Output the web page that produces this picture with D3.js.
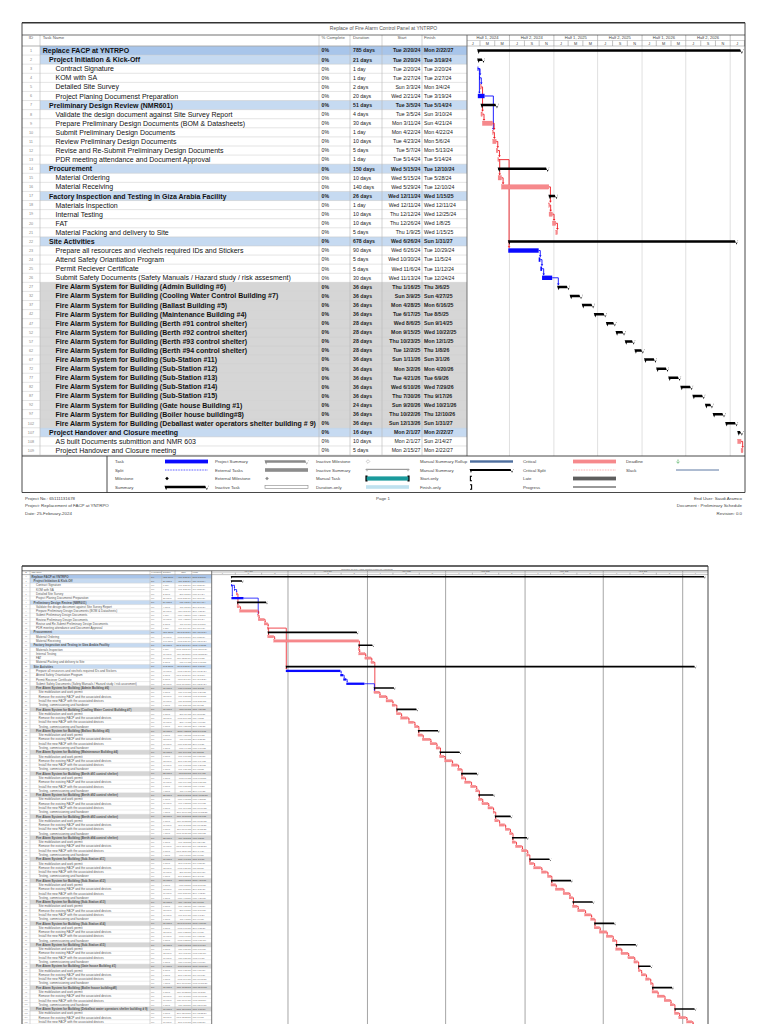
<!DOCTYPE html>
<html>
<head>
<meta charset="utf-8">
<script src="https://cdn.jsdelivr.net/npm/d3@7"></script>
<style>
html, body { margin: 0; padding: 0; background: #fff; }
svg { display: block; font-family: "Liberation Sans", Arial, sans-serif; }
</style>
</head>
<body>
<svg width="768" height="1024"></svg>
<script>
var svg = d3.select("svg");

// ---------------- data ----------------
var rowIds = [1, 2, 3, 4, 5, 6, 7, 8, 9, 10, 11, 12, 13, 14, 15, 16, 17, 18, 19, 20, 21, 22, 23, 24, 25, 26,
    27, 32, 37, 42, 47, 52, 57, 62, 67, 72, 77, 82, 87, 92, 97, 102, 107, 108, 109];
var rowNames = [
    "Replace FACP at YNTRPO",
    "Project Initiation & Kick-Off",
    "Contract Signature",
    "KOM with SA",
    "Detailed Site Survey",
    "Project Planing Documenst Preparation",
    "Preliminary Design Review (NMR601)",
    "Validate the design document against Site Survey Report",
    "Prepare Preliminary Design Documents (BOM & Datasheets)",
    "Submit Preliminary Design Documents",
    "Review Preliminary Design Documents",
    "Revise and Re-Submit Preliminary Design Documents",
    "PDR meeting attendance and Document Approval",
    "Procurement",
    "Material Ordering",
    "Material Receiving",
    "Factory Inspection and Testing in Giza Arabia Facility",
    "Materials Inspection",
    "Internal Testing",
    "FAT",
    "Material Packing and delivery to Site",
    "Site Activities",
    "Prepare all resources and viechels required IDs and Stickers",
    "Attend Safety Oriantiation Program",
    "Permit Reciever Certificate",
    "Submit Safety Documents (Safety Manuals / Hazard study / risk assesment)",
    "Fire Alarm System for Building (Admin Building #6)",
    "Fire Alarm System for Building (Cooling Water Control Building #7)",
    "Fire Alarm System for Building (Ballast Building #5)",
    "Fire Alarm System for Building (Maintenance Building #4)",
    "Fire Alarm System for Building (Berth #91 control shelter)",
    "Fire Alarm System for Building (Berth #92 control shelter)",
    "Fire Alarm System for Building (Berth #93 control shelter)",
    "Fire Alarm System for Building (Berth #94 control shelter)",
    "Fire Alarm System for Building (Sub-Station #11)",
    "Fire Alarm System for Building (Sub-Station #12)",
    "Fire Alarm System for Building (Sub-Station #13)",
    "Fire Alarm System for Building (Sub-Station #14)",
    "Fire Alarm System for Building (Sub-Station #15)",
    "Fire Alarm System for Building (Gate house Building #1)",
    "Fire Alarm System for Building (Boiler house building#8)",
    "Fire Alarm System for Building (Deballast water operators shelter building # 9)",
    "Project Handover and Closure meeting",
    "AS built Documents submittion and NMR 603",
    "Project Handover and Closure meeting"
];
var rowLevels = [0, 1, 2, 2, 2, 2, 1, 2, 2, 2, 2, 2, 2, 1, 2, 2, 1, 2, 2, 2, 2, 1, 2, 2, 2, 2,
    2, 2, 2, 2, 2, 2, 2, 2, 2, 2, 2, 2, 2, 2, 2, 2, 1, 2, 2];
// S = summary, T = task, C = critical task, B = building group
var rowKinds = ["S", "S", "T", "T", "C", "T", "S", "C", "C", "C", "C", "C", "C", "S", "C", "C", "S", "C", "C", "C", "C", "S", "T", "T", "T", "T",
    "B", "B", "B", "B", "B", "B", "B", "B", "B", "B", "B", "B", "B", "B", "B", "B", "S", "C", "C"];
var rowDurations = ["785 days", "21 days", "1 day", "1 day", "2 days", "20 days", "51 days", "4 days", "30 days", "1 day",
    "10 days", "5 days", "1 day", "150 days", "10 days", "140 days", "26 days", "1 day", "10 days", "10 days", "5 days",
    "678 days", "90 days", "5 days", "5 days", "30 days",
    "36 days", "36 days", "36 days", "36 days", "28 days", "28 days", "28 days", "28 days",
    "36 days", "36 days", "36 days", "36 days", "36 days", "24 days", "36 days", "36 days",
    "16 days", "10 days", "5 days"];
var rowStarts = ["Tue 2/20/24", "Tue 2/20/24", "Tue 2/20/24", "Tue 2/27/24", "Sun 3/3/24", "Wed 2/21/24", "Tue 3/5/24",
    "Tue 3/5/24", "Mon 3/11/24", "Mon 4/22/24", "Tue 4/23/24", "Tue 5/7/24", "Tue 5/14/24", "Wed 5/15/24", "Wed 5/15/24",
    "Wed 5/29/24", "Wed 12/11/24", "Wed 12/11/24", "Thu 12/12/24", "Thu 12/26/24", "Thu 1/9/25", "Wed 6/26/24",
    "Wed 6/26/24", "Wed 10/30/24", "Wed 11/6/24", "Wed 11/13/24",
    "Thu 1/16/25", "Sun 3/9/25", "Mon 4/28/25", "Tue 6/17/25", "Wed 8/6/25", "Mon 9/15/25", "Thu 10/23/25", "Tue 12/2/25",
    "Sun 1/11/26", "Mon 3/2/26", "Tue 4/21/26", "Wed 6/10/26", "Thu 7/30/26", "Sun 9/20/26", "Thu 10/22/26", "Sun 12/13/26",
    "Mon 2/1/27", "Mon 2/1/27", "Mon 2/15/27"];
var rowFinishes = ["Mon 2/22/27", "Tue 3/19/24", "Tue 2/20/24", "Tue 2/27/24", "Mon 3/4/24", "Tue 3/19/24", "Tue 5/14/24",
    "Sun 3/10/24", "Sun 4/21/24", "Mon 4/22/24", "Mon 5/6/24", "Mon 5/13/24", "Tue 5/14/24", "Tue 12/10/24", "Tue 5/28/24",
    "Tue 12/10/24", "Wed 1/15/25", "Wed 12/11/24", "Wed 12/25/24", "Wed 1/8/25", "Wed 1/15/25", "Sun 1/31/27",
    "Tue 10/29/24", "Tue 11/5/24", "Tue 11/12/24", "Tue 12/24/24",
    "Thu 3/6/25", "Sun 4/27/25", "Mon 6/16/25", "Tue 8/5/25", "Sun 9/14/25", "Wed 10/22/25", "Mon 12/1/25", "Thu 1/8/26",
    "Sun 3/1/26", "Mon 4/20/26", "Tue 6/9/26", "Wed 7/29/26", "Thu 9/17/26", "Wed 10/21/26", "Thu 12/10/26", "Sun 1/31/27",
    "Mon 2/22/27", "Sun 2/14/27", "Mon 2/22/27"];

// sub tasks of every building (shown expanded on the second page)
var subNames = [
    "Site mobilization and work permit",
    "Remove the existing FACP and the associated devices",
    "Install the new FACP with the associated devices",
    "Testing, commissioning and handover"
];
var subDays36 = [8, 12, 10, 6];
var subDays28 = [6, 10, 8, 4];
var subDays24 = [5, 8, 7, 4];

// dependencies (predecessor -> successor)
var linkFrom = [3, 3, 4, 5, 6, 8, 9, 10, 11, 12, 13, 13, 15, 16, 18, 19, 20, 21, 23, 24, 25, 26, 106, 108];
var linkTo   = [4, 6, 5, 8, 10, 9, 10, 11, 12, 13, 15, 23, 16, 18, 19, 20, 21, 28, 24, 25, 26, 28, 108, 109];

var legendLabels = [
    ["Task", "Split", "Milestone", "Summary"],
    ["Project Summary", "External Tasks", "External Milestone", "Inactive Task"],
    ["Inactive Milestone", "Inactive Summary", "Manual Task", "Duration-only"],
    ["Manual Summary Rollup", "Manual Summary", "Start-only", "Finish-only"],
    ["Critical", "Critical Split", "Late", "Progress"],
    ["Deadline", "Slack"]
];
var footerLeft = ["Project No.: 65111131678", "Project:  Replacement of FACP at YNTRPO", "Date: 25-February-2024"];
var footerRight = ["End User: Saudi Aramco", "Document : Preliminary Schedule", "Revision: 0.0"];
var chartTitle = "Replace of Fire Alarm Control Panel at YNTRPO";
var headerLabels = ["ID", "Task Name", "% Complete", "Duration", "Start", "Finish"];

// ---------------- helpers ----------------
var parseD = d3.timeParse("%m/%d/%y");
var fmtD = d3.timeFormat("%a %-m/%-d/%y");
function toDate(s) { return parseD(s.split(" ")[1]); }
function isWork(d) { var w = d.getDay(); return w !== 5 && w !== 6; }
function addWork(d, n) {
    var c = 1, t = d;
    while (c < n) { t = d3.timeDay.offset(t, 1); if (isWork(t)) c++; }
    return t;
}
function nextWork(d) {
    var t = d3.timeDay.offset(d, 1);
    while (!isWork(t)) t = d3.timeDay.offset(t, 1);
    return t;
}

var rows1 = rowIds.map(function(id, i) {
    return { id: id, name: rowNames[i], level: rowLevels[i], kind: rowKinds[i], dur: rowDurations[i],
        s: rowStarts[i], f: rowFinishes[i], start: toDate(rowStarts[i]), finish: toDate(rowFinishes[i]) };
});
var rows2 = [];
var parentOf = {};
rows1.forEach(function(r) {
    rows2.push(r);
    if (r.kind === "B") {
        var days = r.dur === "36 days" ? subDays36 : (r.dur === "28 days" ? subDays28 : subDays24);
        var cur = r.start;
        days.forEach(function(n, j) {
            var f = addWork(cur, n);
            rows2.push({ id: r.id + j + 1, name: subNames[j], level: 3, kind: "C", dur: n + " days",
                s: fmtD(cur), f: fmtD(f), start: cur, finish: f });
            parentOf[r.id + j + 1] = r.id;
            cur = nextWork(f);
        });
    }
});

var links = linkFrom.map(function(a, i) { return { from: a, to: linkTo[i] }; });
rows1.filter(function(r) { return r.kind === "B"; }).forEach(function(r, k, arr) {
    for (var j = 1; j < 4; j++) links.push({ from: r.id + j, to: r.id + j + 1 });
    if (k < arr.length - 1) links.push({ from: r.id + 4, to: arr[k + 1].id + 1 });
});

// ---------------- page layouts ----------------
var page1 = {
    name: "p1", top: 22.7, titleY: 30.3, hdrTop: 35, tier: 40.5, rowTop: 46, rowH: 9.09,
    left: 22, right: 745, bottom: 456, titleX: 383.5,
    cols: [40, 319, 350, 382, 422, 467],
    nameX: [42.7, 49, 55.5, 61], idX: 31, pctX: 321.5, durX: 353, startX: 420.5, finX: 424,
    x0: 465.5, x1: 730.2,
    fsName: 7, fsNum: 5.2, fsId: 3.8, fsHdr: 4.3, fsTime: 4.1, fsTitle: 5,
    txt: "#111", num: "#222",
    tH: 4.4, sH: 2.5, cap: 1.6, lw: 0.9, arrow: 1.3, minOff: 1.6,
    grid: "#dcdcdc", lineRow: "#c9c9c9", lineCol: "#b5b5b5"
};
var page2 = {
    name: "p2", top: 566, titleY: 569.6, hdrTop: 570.8, tier: 572.7, rowTop: 574.6, rowH: 4.28,
    left: 22, right: 708, bottom: 1024, titleX: 367,
    cols: [30, 150, 161.7, 175, 191.7, 211.7],
    nameX: [31.5, 33.5, 36, 38.5], idX: 26, pctX: 151, durX: 163, startX: 191, finX: 192.5,
    x0: 209.4, x1: 682.7,
    fsName: 3, fsNum: 2.4, fsId: 1.9, fsHdr: 2, fsTime: 1.6, fsTitle: 2.4,
    txt: "#555", num: "#777",
    tH: 2.3, sH: 1.6, cap: 1, lw: 0.8, arrow: 0.8, minOff: 0.9,
    grid: "#9c9c9c", lineRow: "#d6d6d6", lineCol: "#bdbdbd"
};

var BLUE = "#0a0aff", RED = "#ee1c24", PINK = "#f6898c";

function sumPath(x1, x2, y, h, cap) {
    var t = y - h / 2, b = y + h / 2;
    return "M" + x1 + "," + t + "H" + x2 + "V" + b + "H" + x1 + "Z" +
        "M" + (x1 - cap * 0.3) + "," + t + "h" + (cap * 2) + "l" + (-cap) + "," + (h + cap * 1.3) + "Z" +
        "M" + (x2 + cap * 0.3) + "," + t + "h" + (-cap * 2) + "l" + cap + "," + (h + cap * 1.3) + "Z";
}

function drawPage(c, rows) {
    var x = d3.scaleTime().domain([new Date(2024, 0, 1), new Date(2027, 0, 1)]).range([c.x0, c.x1]);
    var g = svg.append("g");
    var n = rows.length;
    rows.forEach(function(r, i) { r.i = i; });
    var yTop = function(i) { return c.rowTop + i * c.rowH; };
    var yMid = function(i) { return c.rowTop + (i + 0.5) * c.rowH; };
    var tableEnd = Math.min(c.rowTop + n * c.rowH, c.bottom);
    var gL = c.cols[5];
    var shown = rows.filter(function(r) { return yMid(r.i) + c.fsName * 0.5 < c.bottom; });

    var defs = g.append("defs");
    defs.append("clipPath").attr("id", c.name + "gantt").append("rect")
        .attr("x", gL).attr("y", c.hdrTop).attr("width", c.right - gL).attr("height", c.bottom - c.hdrTop);
    defs.append("clipPath").attr("id", c.name + "names").append("rect")
        .attr("x", c.cols[0]).attr("y", c.hdrTop).attr("width", c.cols[1] - c.cols[0] - 0.5).attr("height", c.bottom - c.hdrTop);

    // shaded summary rows
    g.append("g").selectAll("rect")
        .data(rows.filter(function(r) { return (r.kind === "S" || r.kind === "B") && yTop(r.i) < c.bottom; }))
        .enter().append("rect")
        .attr("x", c.cols[0]).attr("y", function(r) { return yTop(r.i); })
        .attr("width", gL - c.cols[0]).attr("height", c.rowH)
        .attr("fill", function(r) { return r.id === 1 ? "#a8c5ea" : (r.kind === "S" ? "#c6daf1" : "#d6d6d6"); });

    // row lines
    g.append("g").selectAll("line").data(d3.range(n + 1).filter(function(i) { return yTop(i) <= c.bottom; }))
        .enter().append("line")
        .attr("x1", c.left).attr("x2", gL)
        .attr("y1", function(i) { return yTop(i); }).attr("y2", function(i) { return yTop(i); })
        .attr("stroke", c.lineRow).attr("stroke-width", 0.5);
    // column lines
    g.append("g").selectAll("line").data(c.cols.slice(0, 5)).enter().append("line")
        .attr("x1", function(d) { return d; }).attr("x2", function(d) { return d; })
        .attr("y1", c.hdrTop).attr("y2", tableEnd)
        .attr("stroke", c.lineCol).attr("stroke-width", 0.6);

    // header labels
    var hx = [c.idX, c.nameX[0], c.pctX, c.durX, (c.cols[3] + c.cols[4]) / 2, c.finX];
    g.append("g").selectAll("text").data(headerLabels).enter().append("text")
        .attr("x", function(d, i) { return hx[i]; })
        .attr("y", c.hdrTop + c.fsHdr * 0.95)
        .attr("text-anchor", function(d, i) { return (i === 0 || i === 4) ? "middle" : "start"; })
        .attr("font-size", c.fsHdr).attr("fill", "#555").text(function(d) { return d; });

    // title
    g.append("text").attr("x", c.titleX).attr("y", c.titleY).attr("text-anchor", "middle")
        .attr("font-size", c.fsTitle).attr("fill", "#555").text(chartTitle);

    // ids
    g.append("g").selectAll("text").data(shown).enter().append("text")
        .attr("x", c.idX).attr("y", function(r) { return yMid(r.i) + c.fsId * 0.35; })
        .attr("text-anchor", "middle").attr("font-size", c.fsId).attr("fill", "#8a8a8a")
        .text(function(r) { return r.id; });

    // task names
    g.append("g").attr("clip-path", "url(#" + c.name + "names)")
        .selectAll("text").data(shown).enter().append("text")
        .attr("x", function(r) { return c.nameX[r.level]; })
        .attr("y", function(r) { return yMid(r.i) + c.fsName * 0.36; })
        .attr("font-size", c.fsName)
        .attr("font-weight", function(r) { return (r.kind === "S" || r.kind === "B") ? "bold" : "normal"; })
        .attr("fill", c.txt).text(function(r) { return r.name; });

    // numbers
    var bold = function(r) { return (r.kind === "S" || r.kind === "B") ? "bold" : "normal"; };
    var numG = g.append("g").attr("font-size", c.fsNum).attr("fill", c.num);
    numG.selectAll("text.p").data(shown).enter().append("text").attr("class", "p")
        .attr("x", c.pctX).attr("y", function(r) { return yMid(r.i) + c.fsNum * 0.36; })
        .attr("font-weight", bold).text("0%");
    numG.selectAll("text.d").data(shown).enter().append("text").attr("class", "d")
        .attr("x", c.durX).attr("y", function(r) { return yMid(r.i) + c.fsNum * 0.36; })
        .attr("font-weight", bold).text(function(r) { return r.dur; });
    numG.selectAll("text.s").data(shown).enter().append("text").attr("class", "s")
        .attr("x", c.startX).attr("y", function(r) { return yMid(r.i) + c.fsNum * 0.36; })
        .attr("text-anchor", "end").attr("font-weight", bold).text(function(r) { return r.s; });
    numG.selectAll("text.f").data(shown).enter().append("text").attr("class", "f")
        .attr("x", c.finX).attr("y", function(r) { return yMid(r.i) + c.fsNum * 0.36; })
        .attr("font-weight", bold).text(function(r) { return r.f; });

    // ---- gantt ----
    var gg = g.append("g").attr("clip-path", "url(#" + c.name + "gantt)");
    var halves = d3.timeMonth.every(6).range(new Date(2023, 6, 1), new Date(2027, 6, 2));
    var months = d3.timeMonth.every(2).range(new Date(2023, 10, 1), new Date(2027, 6, 2));
    var inside = function(d) { return x(d) > gL && x(d) < c.right; };

    // grid lines
    gg.append("g").selectAll("line").data(halves.filter(inside)).enter().append("line")
        .attr("x1", function(d) { return x(d); }).attr("x2", function(d) { return x(d); })
        .attr("y1", c.rowTop).attr("y2", c.bottom)
        .attr("stroke", c.grid).attr("stroke-width", 0.9);

    // timescale tiers
    gg.append("g").selectAll("line").data(halves.filter(inside)).enter().append("line")
        .attr("x1", function(d) { return x(d); }).attr("x2", function(d) { return x(d); })
        .attr("y1", c.hdrTop).attr("y2", c.tier).attr("stroke", "#999").attr("stroke-width", 0.6);
    var halfMid = function(d) { return (x(d) + x(d3.timeMonth.offset(d, 6))) / 2; };
    gg.append("g").selectAll("text")
        .data(halves.filter(function(d) { return halfMid(d) > gL + 12 && halfMid(d) < c.right - 12 * c.fsTime / 4; }))
        .enter().append("text")
        .attr("x", halfMid)
        .attr("y", c.hdrTop + (c.tier - c.hdrTop) * 0.5 + c.fsTime * 0.35)
        .attr("text-anchor", "middle").attr("font-size", c.fsTime).attr("fill", "#444")
        .text(function(d) { return "Half " + (d.getMonth() < 6 ? 1 : 2) + ", " + d.getFullYear(); });
    gg.append("g").selectAll("line").data(months.filter(inside)).enter().append("line")
        .attr("x1", function(d) { return x(d); }).attr("x2", function(d) { return x(d); })
        .attr("y1", c.tier).attr("y2", c.rowTop).attr("stroke", "#999").attr("stroke-width", 0.6);
    var monMid = function(d) { return (x(d) + x(d3.timeMonth.offset(d, 2))) / 2; };
    gg.append("g").selectAll("text")
        .data(months.filter(function(d) { return monMid(d) > gL + 1 && monMid(d) < c.right - 1; }))
        .enter().append("text")
        .attr("x", monMid)
        .attr("y", c.tier + (c.rowTop - c.tier) * 0.5 + c.fsTime * 0.35)
        .attr("text-anchor", "middle").attr("font-size", c.fsTime * 0.95).attr("fill", "#444")
        .text(function(d) { return d3.timeFormat("%b")(d).charAt(0); });
    g.append("line").attr("x1", gL).attr("x2", c.right).attr("y1", c.tier).attr("y2", c.tier)
        .attr("stroke", "#aaa").attr("stroke-width", 0.5);

    var xs = function(r) { return x(r.start); };
    var xe = function(r) { return x(d3.timeDay.offset(r.finish, 1)); };

    // links
    var pos = {};
    rows.forEach(function(r) { pos[r.id] = r; });
    var vis = [];
    links.forEach(function(l) {
        var a = pos[l.from], b = pos[l.to];
        if (a && b) vis.push({ a: a, b: b });
        else if (a && !b) {
            var p = pos[parentOf[l.to]];
            if (p && p.i === a.i + 1) vis.push({ a: a, b: p });
        }
    });
    var lg = gg.append("g").attr("fill", "none");
    vis.forEach(function(l) {
        var col = l.a.kind === "C" ? RED : BLUE;
        var x1 = xe(l.a), y1 = yMid(l.a.i);
        var xt = Math.max(xs(l.b) + c.minOff * 0.5, x1 + c.minOff);
        var hb = (l.b.kind === "S" || l.b.kind === "B") ? c.sH : c.tH;
        var yt = yMid(l.b.i) - hb / 2 - 0.2;
        lg.append("path").attr("d", "M" + x1 + "," + y1 + "H" + xt + "V" + (yt - c.arrow))
            .attr("stroke", col).attr("stroke-width", c.lw);
        lg.append("path").attr("d", "M" + (xt - c.arrow) + "," + (yt - c.arrow * 1.5) + "H" + (xt + c.arrow) + "L" + xt + "," + yt + "Z")
            .attr("fill", col);
    });

    // bars
    var bars = gg.append("g");
    bars.selectAll("path.sum").data(rows.filter(function(r) { return r.kind === "S" || r.kind === "B"; }))
        .enter().append("path").attr("class", "sum")
        .attr("d", function(r) { return sumPath(xs(r), xe(r), yMid(r.i), c.sH, c.cap); })
        .attr("fill", "#000");
    bars.selectAll("rect.task").data(rows.filter(function(r) { return r.kind === "T" || r.kind === "C"; }))
        .enter().append("rect").attr("class", "task")
        .attr("x", xs).attr("y", function(r) { return yMid(r.i) - c.tH / 2; })
        .attr("width", function(r) { return Math.max(0.8, xe(r) - xs(r)); }).attr("height", c.tH)
        .attr("fill", function(r) { return r.kind === "C" ? PINK : BLUE; })
        .attr("stroke", function(r) { return r.kind === "C" ? "#f26b70" : "none"; })
        .attr("stroke-width", 0.3);

    // frame
    var fr = g.append("g").attr("stroke", "#333");
    fr.append("line").attr("x1", c.left).attr("x2", c.right).attr("y1", c.top).attr("y2", c.top).attr("stroke-width", 1.4);
    fr.append("line").attr("x1", c.left).attr("x2", c.right).attr("y1", c.hdrTop).attr("y2", c.hdrTop).attr("stroke-width", 0.7);
    fr.append("line").attr("x1", c.left).attr("x2", c.right).attr("y1", c.rowTop).attr("y2", c.rowTop).attr("stroke-width", 0.5).attr("stroke", "#888");
    fr.append("line").attr("x1", gL).attr("x2", gL).attr("y1", c.hdrTop).attr("y2", c.bottom).attr("stroke-width", 0.9).attr("stroke", "#666");
    fr.append("line").attr("x1", c.left).attr("x2", c.left).attr("y1", c.top).attr("y2", c.bottom).attr("stroke-width", 0.9);
    fr.append("line").attr("x1", c.right).attr("x2", c.right).attr("y1", c.top).attr("y2", c.bottom).attr("stroke-width", 0.9);
}

function drawLegend() {
    var g = svg.append("g");
    var lx = [115, 215, 316, 420, 523, 626];
    var ly = [461.5, 470, 478.5, 487];
    var w = 43;
    g.append("line").attr("x1", 22).attr("x2", 745).attr("y1", 456).attr("y2", 456).attr("stroke", "#333").attr("stroke-width", 0.9);
    g.append("line").attr("x1", 22).attr("x2", 745).attr("y1", 492.5).attr("y2", 492.5).attr("stroke", "#333").attr("stroke-width", 0.9);
    g.append("line").attr("x1", 107).attr("x2", 107).attr("y1", 456).attr("y2", 492.5).attr("stroke", "#333").attr("stroke-width", 0.9);
    g.append("line").attr("x1", 22).attr("x2", 22).attr("y1", 456).attr("y2", 492.5).attr("stroke", "#333").attr("stroke-width", 0.9);
    g.append("line").attr("x1", 745).attr("x2", 745).attr("y1", 456).attr("y2", 492.5).attr("stroke", "#333").attr("stroke-width", 0.9);

    legendLabels.forEach(function(col, ci) {
        col.forEach(function(lab, ri) {
            var y = ly[ri], x0 = lx[ci] + 50, x1 = x0 + w;
            g.append("text").attr("x", lx[ci]).attr("y", y + 1.5).attr("font-size", 4.3).attr("fill", "#444").text(lab);
            var k = ci + "-" + ri;
            var rect = function(fill, h, stroke) {
                g.append("rect").attr("x", x0).attr("y", y - h / 2).attr("width", w).attr("height", h)
                    .attr("fill", fill).attr("stroke", stroke || "none").attr("stroke-width", 0.6);
            };
            var diamond = function(cx, fill, stroke) {
                g.append("path").attr("d", "M" + cx + "," + (y - 1.8) + "l1.8,1.8l-1.8,1.8l-1.8,-1.8Z")
                    .attr("fill", fill).attr("stroke", stroke || "none").attr("stroke-width", 0.5);
            };
            if (k === "0-0") rect(BLUE, 3.8);
            if (k === "0-1") g.append("line").attr("x1", x0).attr("x2", x1).attr("y1", y).attr("y2", y).attr("stroke", BLUE).attr("stroke-width", 0.8).attr("stroke-dasharray", "0.8,0.8");
            if (k === "0-2") diamond(x0 + 2, "#000");
            if (k === "0-3") g.append("path").attr("d", sumPath(x0, x1, y, 2.5, 1.6)).attr("fill", "#000");
            if (k === "1-0") g.append("path").attr("d", sumPath(x0, x1, y, 2.5, 1.6)).attr("fill", "#8a8a8a");
            if (k === "1-1") rect("#8c8c8c", 3.6);
            if (k === "1-2") diamond(x0 + 2, "#8c8c8c");
            if (k === "1-3") rect("#fff", 3.2, "#888");
            if (k === "2-0") diamond(x0 + 2, "#fff", "#999");
            if (k === "2-1") {
                g.append("line").attr("x1", x0).attr("x2", x1).attr("y1", y - 0.6).attr("y2", y - 0.6).attr("stroke", "#999").attr("stroke-width", 1);
                g.append("path").attr("d", sumPath(x0, x1, y - 0.6, 0.01, 1.4)).attr("fill", "#fff").attr("stroke", "#999").attr("stroke-width", 0.5);
            }
            if (k === "2-2") {
                rect("#1a9a9c", 4.2);
                g.append("path").attr("d", "M" + (x0 + 1.5) + "," + (y - 2.4) + "h-1.5v4.8h1.5M" + (x1 - 1.5) + "," + (y - 2.4) + "h1.5v4.8h-1.5")
                    .attr("fill", "none").attr("stroke", "#000").attr("stroke-width", 1.2);
            }
            if (k === "2-3") rect("#bfe1ef", 3.6);
            if (k === "3-0") rect("#4f6f9f", 2.4);
            if (k === "3-1") g.append("path").attr("d", sumPath(x0, x1, y, 2.2, 1.4)).attr("fill", "#000");
            if (k === "3-2") g.append("path").attr("d", "M" + (x0 + 2) + "," + (y - 2.2) + "h-1.6v4.4h1.6").attr("fill", "none").attr("stroke", "#000").attr("stroke-width", 1.1);
            if (k === "3-3") g.append("path").attr("d", "M" + x0 + "," + (y - 2.2) + "h1.6v4.4h-1.6").attr("fill", "none").attr("stroke", "#000").attr("stroke-width", 1.1);
            if (k === "4-0") rect(PINK, 3.8);
            if (k === "4-1") g.append("line").attr("x1", x0).attr("x2", x1).attr("y1", y).attr("y2", y).attr("stroke", PINK).attr("stroke-width", 0.8).attr("stroke-dasharray", "0.8,0.8");
            if (k === "4-2") rect("#5e5e5e", 3.8);
            if (k === "4-3") rect("#6e6e6e", 1.4);
            if (k === "5-0") g.append("path").attr("d", "M" + (x0 + 2) + "," + (y - 2) + "v2.2M" + (x0 + 0.6) + "," + (y + 0.2) + "l1.4,1.6l1.4,-1.6")
                .attr("fill", "none").attr("stroke", "#3aa34a").attr("stroke-width", 0.7);
            if (k === "5-1") g.append("line").attr("x1", x0).attr("x2", x1).attr("y1", y).attr("y2", y).attr("stroke", "#4a6a98").attr("stroke-width", 0.9);
        });
    });

    var fg = g.append("g").attr("font-size", 4.4).attr("fill", "#444");
    fg.selectAll("text.l").data(footerLeft).enter().append("text").attr("class", "l")
        .attr("x", 25).attr("y", function(d, i) { return 499.5 + i * 7.5; }).text(function(d) { return d; });
    fg.selectAll("text.r").data(footerRight).enter().append("text").attr("class", "r")
        .attr("x", 742).attr("y", function(d, i) { return 499.5 + i * 7.5; }).attr("text-anchor", "end").text(function(d) { return d; });
    fg.append("text").attr("x", 383).attr("y", 499.5).attr("text-anchor", "middle").text("Page 1");
}

svg.append("rect").attr("width", 768).attr("height", 1024).attr("fill", "#fff");
drawPage(page1, rows1);
drawLegend();
drawPage(page2, rows2);
</script>
</body>
</html>
